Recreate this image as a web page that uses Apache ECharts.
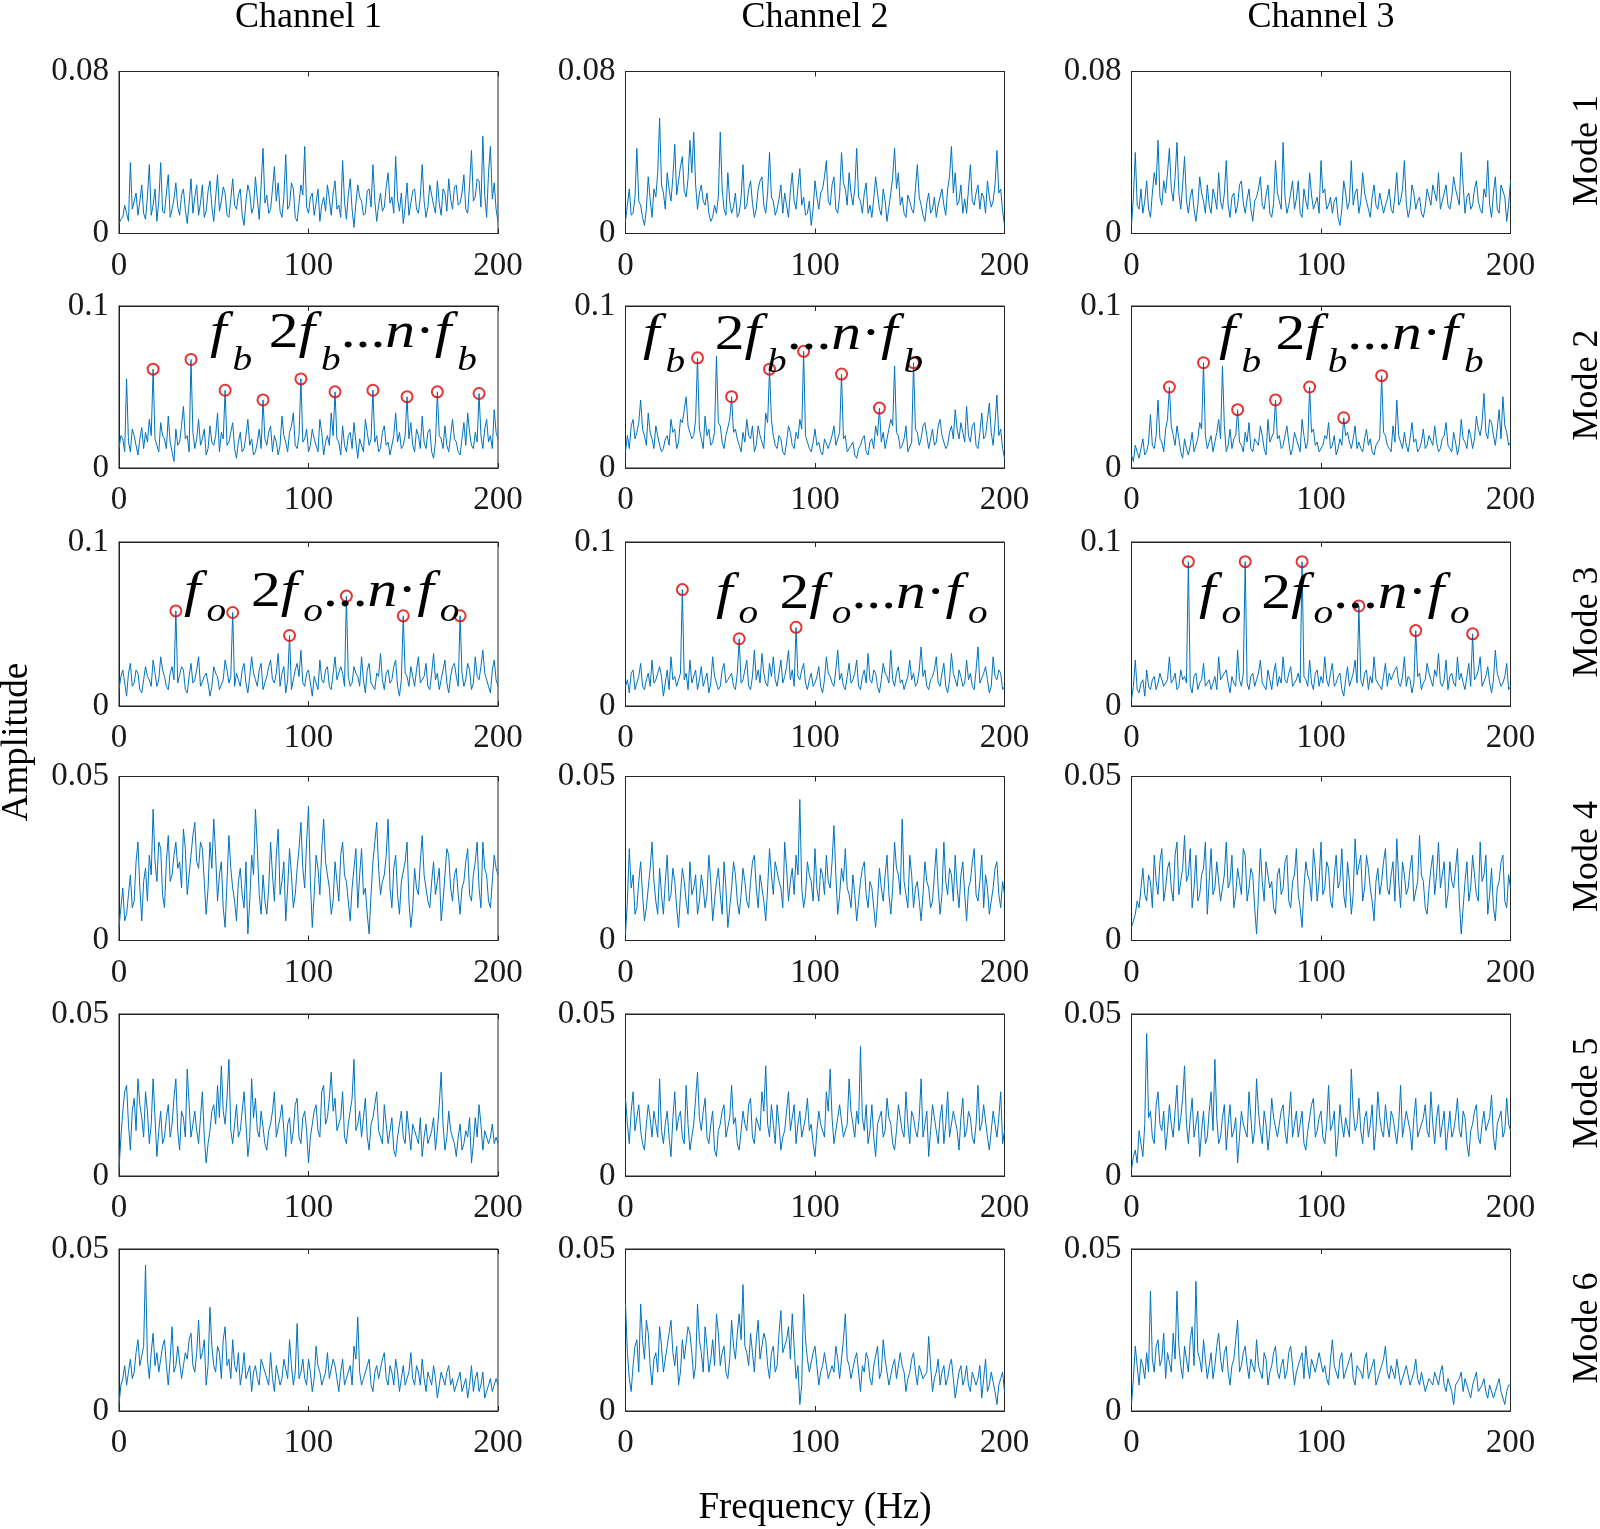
<!DOCTYPE html>
<html>
<head>
<meta charset="utf-8">
<script src="https://cdn.jsdelivr.net/npm/echarts@6/dist/echarts.min.js"></script>
<style>
html, body { margin: 0; background: #fff; }
#main { width: 1600px; height: 1529px; }
</style>
</head>
<body>
<div id="main"></div>
<script>
// amplitude spectra, values in units of 0.001, one value per 1 Hz from 0 to 200 Hz
const mode1Ch1 = [5,7, 8,14, 10,6, 35,12, 12,20, 9,16, 24,10, 7,18, 34,9, 14,22,
    6,16, 35,11, 10,20, 29,8, 12,17, 25,13, 9,19, 22,12, 5,15, 27,10,
    18,24, 9,15, 24,8, 11,21, 26,13, 6,18, 29,11, 16,23, 20,9, 8,17,
    27,14, 12,19, 22,9, 4,16, 24,20, 10,13, 28,17, 7,24, 42,15, 19,10,
    12,22, 33,16, 25,11, 8,18, 39,12, 14,25, 22,8, 6,15, 24,19, 43,13,
    10,18, 20,9, 15,22, 6,14, 18,11, 24,17, 9,20, 26,12, 14,8, 36,16,
    7,19, 27,12, 3,15, 24,18, 16,9, 10,21, 22,13, 34,16, 6,14, 20,11,
    13,23, 30,15, 18,10, 38,17, 11,20, 5,13, 25,9, 15,21, 22,12, 10,18,
    34,16, 8,13, 24,19, 14,10, 26,15, 9,22, 20,11, 27,17, 12,23, 24,14,
    15,20, 29,12, 10,24, 41,16, 18,27, 26,13, 48,19, 8,30, 43,17, 25,12,
    6]
const mode1Ch2 = [6,14, 22,9, 10,18, 42,16, 14,8, 4,12, 28,17, 8,22, 18,30, 57,24,
    20,12, 30,22, 16,28, 44,19, 26,33, 38,21, 18,27, 46,30, 50,24, 12,20,
    24,16, 14,20, 10,6, 8,14, 10,18, 50,22, 12,9, 30,16, 10,13, 20,8,
    10,18, 34,12, 14,22, 26,15, 8,12, 22,26, 28,14, 10,20, 40,18, 16,9,
    12,17, 24,10, 20,14, 8,21, 30,16, 12,23, 32,14, 18,9, 10,16, 4,12,
    26,18, 12,20, 22,28, 36,16, 14,24, 28,12, 10,19, 40,25, 22,14, 30,20,
    14,22, 42,18, 16,10, 20,25, 10,14, 8,17, 28,20, 12,9, 22,16, 6,13,
    20,28, 42,22, 30,14, 18,10, 8,19, 16,12, 10,22, 34,18, 14,9, 6,15,
    20,10, 12,18, 8,14, 18,22, 14,9, 22,28, 43,20, 30,14, 16,24, 10,17,
    10,22, 34,16, 14,20, 24,12, 20,18, 10,26, 18,13, 16,24, 41,20, 22,11,
    4]
const mode1Ch3 = [4,18, 40,14, 12,22, 10,16, 26,12, 8,20, 30,24, 46,18, 14,26, 20,30,
    42,22, 16,28, 45,20, 12,24, 38,16, 10,18, 22,12, 6,14, 28,20, 16,10,
    24,14, 10,22, 18,12, 30,16, 12,20, 36,14, 8,18, 20,10, 14,24, 26,15,
    10,17, 22,12, 6,16, 18,22, 28,14, 12,19, 24,10, 8,15, 36,20, 16,12,
    45,18, 10,14, 20,26, 12,17, 26,10, 8,22, 16,12, 30,19, 12,15, 18,10,
    36,20, 22,12, 14,18, 10,16, 18,8, 4,12, 26,20, 12,16, 36,14, 20,22,
    10,16, 30,20, 16,12, 8,18, 24,14, 12,20, 20,10, 14,17, 22,12, 10,19,
    30,14, 16,22, 36,15, 8,12, 24,20, 12,16, 18,10, 8,13, 22,18, 14,24,
    20,16, 30,12, 16,20, 24,14, 12,18, 28,22, 18,14, 40,24, 10,18, 20,12,
    14,22, 26,16, 12,10, 22,18, 36,14, 8,20, 28,12, 10,24, 24,18, 6,14,
    26]
const mode2Ch1 = [12,20, 18,10, 55,16, 10,24, 20,14, 8,18, 25,12, 22,16, 30,20, 61,18,
    14,10, 28,20, 18,12, 32,16, 10,4, 24,14, 16,26, 38,18, 20,10, 67,22,
    12,18, 30,14, 18,24, 8,12, 26,16, 14,20, 34,10, 22,18, 48,14, 16,22,
    28,12, 6,16, 22,10, 12,20, 30,14, 18,8, 10,16, 24,12, 42,18, 14,22,
    26,10, 20,16, 8,14, 32,20, 16,10, 22,26, 34,14, 12,20, 55,16, 18,24,
    10,14, 24,18, 14,10, 30,22, 8,16, 20,14, 34,20, 47,18, 16,8, 26,14,
    10,20, 22,12, 28,16, 6,18, 18,10, 30,22, 14,18, 48,16, 20,10, 12,22,
    26,14, 16,8, 8,20, 34,16, 22,12, 14,20, 44,18, 28,14, 10,24, 20,12,
    32,16, 12,22, 24,10, 6,16, 47,20, 18,12, 26,14, 10,20, 30,18, 16,10,
    8,18, 28,14, 34,22, 14,12, 22,16, 46,20, 12,24, 30,16, 20,12, 36,22,
    18]
const mode2Ch2 = [10,20, 12,26, 30,18, 22,28, 42,24, 20,14, 34,22, 18,12, 26,20, 14,10,
    12,18, 20,14, 30,22, 24,12, 16,30, 28,36, 44,26, 22,18, 20,30, 68,24,
    18,12, 32,20, 24,14, 16,22, 69,28, 26,16, 12,20, 20,30, 44,22, 24,18,
    14,10, 22,16, 30,20, 18,26, 10,14, 26,20, 16,12, 34,28, 61,30, 20,14,
    12,20, 18,10, 8,16, 26,22, 14,12, 22,18, 30,24, 72,20, 20,12, 10,16,
    24,14, 16,10, 8,18, 18,12, 12,20, 26,14, 14,22, 58,18, 20,10, 10,14,
    16,8, 6,12, 14,18, 20,10, 8,16, 18,12, 26,20, 37,16, 22,12, 12,24,
    30,26, 63,22, 20,12, 14,18, 26,10, 10,16, 65,24, 22,14, 18,26, 28,20,
    12,18, 24,14, 16,26, 30,20, 20,12, 14,22, 26,18, 36,24, 18,28, 22,16,
    38,20, 16,26, 28,14, 12,22, 34,18, 20,30, 40,22, 14,28, 45,20, 24,12,
    6]
const mode2Ch3 = [8,4, 14,10, 6,12, 18,8, 10,16, 33,14, 12,20, 42,18, 16,10, 24,30,
    50,26, 20,14, 26,18, 10,6, 18,12, 8,14, 22,10, 14,18, 28,24, 65,20,
    12,16, 20,10, 16,22, 30,18, 63,26, 10,14, 24,12, 18,20, 36,16, 14,10,
    22,16, 28,12, 10,18, 18,14, 26,20, 12,8, 30,16, 16,22, 42,18, 20,12,
    14,20, 26,16, 8,12, 22,18, 18,10, 30,20, 12,16, 50,22, 24,14, 16,10,
    10,14, 20,18, 28,12, 14,20, 8,12, 18,14, 31,20, 22,16, 12,18, 26,12,
    16,12, 10,18, 24,14, 18,10, 8,14, 14,18, 57,22, 20,14, 12,10, 26,16,
    42,20, 16,12, 22,14, 10,18, 28,16, 18,10, 12,16, 24,12, 14,20, 20,14,
    26,16, 10,12, 18,20, 28,14, 14,10, 22,16, 8,14, 30,18, 16,12, 24,20,
    12,18, 32,24, 20,28, 46,22, 18,30, 28,20, 14,24, 36,18, 44,26, 22,14,
    16]
const mode3Ch1 = [10,18, 22,14, 6,20, 26,12, 14,22, 20,10, 8,16, 24,18, 16,12, 28,20,
    12,16, 30,22, 18,12, 10,20, 24,16, 58,14, 14,24, 22,10, 8,18, 26,14,
    16,22, 30,12, 12,18, 20,14, 6,12, 24,20, 18,10, 10,16, 28,22, 14,18,
    57,12, 20,16, 12,22, 26,14, 8,18, 30,20, 16,12, 22,26, 10,14, 18,24,
    28,16, 14,20, 32,12, 20,24, 8,16, 43,10, 16,22, 26,18, 34,14, 12,20,
    22,14, 6,18, 18,10, 28,16, 14,22, 24,12, 10,20, 30,16, 16,24, 20,12,
    67,18, 12,14, 24,20, 18,12, 30,16, 8,22, 26,14, 14,10, 20,18, 32,16,
    10,20, 22,14, 16,24, 28,12, 6,16, 55,20, 18,12, 24,18, 12,22, 30,14,
    14,18, 26,12, 10,20, 32,16, 20,10, 16,22, 28,14, 8,18, 24,26, 18,12,
    55,20, 12,16, 26,22, 10,14, 30,18, 16,24, 34,20, 20,12, 8,22, 28,16,
    12]
const mode3Ch2 = [12,16, 8,20, 22,10, 14,18, 26,12, 10,16, 20,12, 28,14, 16,20, 24,18,
    6,14, 22,10, 30,16, 18,12, 12,20, 71,16, 20,10, 28,14, 14,22, 10,16,
    24,12, 16,20, 8,14, 30,18, 18,10, 12,22, 26,14, 14,18, 20,12, 10,20,
    41,14, 16,22, 28,12, 10,18, 34,16, 22,14, 32,20, 14,12, 26,18, 30,16,
    12,20, 28,14, 18,24, 34,16, 22,12, 48,18, 16,22, 26,14, 10,16, 20,12,
    14,18, 24,12, 8,16, 30,20, 18,14, 12,22, 34,16, 20,12, 10,18, 26,14,
    16,20, 28,12, 10,18, 22,14, 32,16, 14,22, 20,12, 8,16, 26,20, 18,14,
    34,16, 12,20, 24,14, 16,10, 10,18, 28,16, 20,12, 14,22, 36,18, 22,12,
    10,16, 18,22, 30,14, 12,20, 26,12, 8,16, 32,20, 16,12, 22,18, 12,14,
    28,16, 20,12, 10,22, 36,14, 14,20, 24,16, 8,12, 30,18, 16,22, 20,10,
    12]
const mode3Ch3 = [4,12, 28,10, 8,14, 16,6, 22,12, 10,16, 18,10, 14,20, 20,12, 12,16,
    30,14, 16,20, 10,12, 22,16, 18,14, 88,12, 8,18, 20,10, 14,16, 26,12,
    12,16, 10,14, 18,10, 30,16, 16,20, 22,14, 8,18, 14,12, 34,16, 12,20,
    88,14, 10,18, 20,12, 16,20, 28,14, 14,10, 22,16, 10,20, 26,12, 18,14,
    30,16, 14,20, 24,12, 12,16, 20,14, 88,18, 16,12, 28,14, 10,20, 22,12,
    18,14, 30,16, 12,20, 26,12, 14,18, 20,10, 6,16, 24,12, 16,20, 28,14,
    61,16, 12,20, 22,10, 18,14, 30,16, 14,12, 10,18, 26,12, 20,16, 16,22,
    24,14, 12,18, 30,12, 18,16, 8,14, 46,18, 20,10, 14,16, 26,20, 16,12,
    22,18, 32,14, 12,16, 28,10, 18,20, 14,12, 30,16, 20,14, 10,18, 26,12,
    44,16, 18,22, 30,12, 12,18, 24,14, 8,16, 34,20, 20,12, 14,18, 26,10,
    12]
const mode4Ch1 = [4,10, 16,6, 8,14, 20,10, 12,24, 30,16, 6,18, 22,12, 26,20, 40,24,
    18,30, 28,14, 10,24, 32,18, 20,26, 30,22, 24,16, 34,28, 14,20, 26,32,
    36,24, 22,30, 28,18, 8,16, 30,22, 37,26, 12,20, 24,10, 4,18, 32,22,
    16,12, 6,18, 22,14, 10,24, 2,12, 26,20, 40,28, 14,8, 20,12, 8,16,
    30,20, 12,26, 34,14, 18,24, 6,16, 28,20, 10,14, 22,28, 36,22, 16,30,
    41,18, 4,14, 26,22, 14,28, 37,24, 20,16, 8,12, 24,18, 12,26, 30,20,
    18,12, 6,16, 22,28, 10,20, 28,14, 16,8, 2,14, 24,30, 36,22, 14,18,
    20,26, 37,16, 10,22, 26,14, 8,18, 18,24, 30,12, 4,10, 22,16, 14,24,
    32,20, 16,12, 10,18, 24,14, 18,22, 6,12, 20,28, 26,16, 12,20, 22,14,
    8,16, 18,24, 28,14, 12,20, 24,30, 16,10, 30,22, 20,12, 10,18, 26,22,
    20]
const mode4Ch2 = [2,12, 28,16, 20,8, 10,18, 24,14, 6,10, 16,22, 30,18, 12,8, 22,14,
    8,18, 26,12, 14,22, 18,10, 4,14, 22,18, 12,8, 24,14, 16,20, 8,12,
    20,16, 10,14, 26,18, 6,12, 18,22, 14,8, 24,16, 4,10, 16,24, 20,12,
    8,14, 22,18, 12,10, 18,24, 26,16, 10,20, 20,12, 6,16, 28,20, 14,24,
    24,18, 16,10, 30,22, 12,18, 22,14, 26,20, 43,16, 10,14, 24,20, 18,12,
    28,16, 12,22, 20,14, 26,18, 16,24, 35,20, 8,14, 22,18, 28,16, 14,10,
    20,14, 6,12, 18,22, 24,14, 10,18, 16,10, 4,12, 22,16, 12,20, 26,14,
    8,16, 30,22, 20,14, 37,18, 14,10, 26,20, 10,16, 18,12, 6,14, 24,18,
    16,10, 12,20, 28,16, 8,14, 30,18, 14,22, 20,12, 26,16, 10,20, 24,14,
    6,16, 18,24, 28,14, 12,18, 26,10, 20,16, 8,12, 16,22, 24,14, 10,18,
    14]
const mode4Ch3 = [4,6, 8,12, 10,16, 22,14, 12,20, 18,10, 26,18, 14,24, 28,12, 16,22,
    24,16, 12,26, 30,14, 18,22, 32,18, 20,28, 10,16, 26,12, 14,20, 22,30,
    8,18, 28,14, 16,24, 24,12, 12,20, 30,16, 18,26, 10,14, 22,18, 14,28,
    26,12, 16,22, 20,10, 2,14, 28,18, 12,24, 24,16, 18,10, 8,20, 22,14,
    16,24, 26,12, 10,18, 20,28, 14,10, 4,16, 24,20, 18,12, 28,22, 12,18,
    30,14, 16,24, 22,12, 10,20, 26,16, 18,28, 14,10, 24,18, 8,14, 31,20,
    20,26, 12,16, 26,22, 16,12, 6,18, 22,14, 18,24, 28,16, 14,20, 24,12,
    31,18, 10,24, 20,14, 16,22, 26,12, 12,18, 32,20, 18,10, 8,16, 22,26,
    14,20, 30,16, 20,24, 10,14, 24,18, 16,22, 28,12, 2,10, 18,24, 12,16,
    26,20, 14,12, 30,18, 20,26, 8,14, 22,10, 6,16, 18,24, 26,12, 10,20,
    16]
const mode5Ch1 = [2,12, 20,26, 28,16, 8,20, 24,14, 30,22, 18,12, 26,20, 10,16, 30,18,
    6,14, 20,10, 12,18, 22,12, 16,24, 30,14, 8,20, 18,12, 33,22, 12,16,
    20,14, 10,18, 26,12, 4,10, 14,20, 22,16, 28,18, 34,20, 16,24, 36,14,
    10,16, 22,12, 14,20, 26,16, 6,12, 30,18, 24,14, 12,20, 20,10, 8,14,
    16,20, 26,12, 12,18, 22,14, 6,16, 18,10, 14,22, 24,12, 10,18, 20,14,
    4,12, 16,20, 22,14, 12,26, 28,16, 18,24, 32,20, 24,14, 14,18, 26,12,
    10,16, 20,24, 36,14, 16,20, 12,18, 24,12, 8,16, 18,22, 26,14, 14,10,
    22,16, 10,14, 18,8, 6,12, 16,20, 12,10, 20,14, 8,16, 14,12, 10,18,
    6,12, 16,10, 10,14, 18,8, 14,22, 32,16, 8,12, 20,14, 14,10, 6,12,
    16,8, 10,14, 12,18, 4,10, 18,12, 22,16, 8,14, 14,10, 12,16, 10,12,
    10]
const mode5Ch2 = [24,16, 10,20, 26,14, 18,22, 14,10, 8,16, 22,18, 12,20, 16,12, 30,14,
    10,16, 20,12, 6,18, 26,14, 18,20, 12,10, 28,16, 8,12, 16,24, 32,18,
    14,20, 24,12, 10,16, 20,8, 6,14, 16,20, 22,12, 12,18, 28,16, 18,10,
    8,14, 20,16, 14,22, 24,12, 10,18, 18,14, 26,20, 34,16, 12,22, 16,10,
    22,16, 8,12, 14,20, 26,14, 18,22, 10,16, 20,12, 12,18, 24,14, 16,10,
    6,14, 20,16, 14,12, 26,20, 33,18, 10,14, 18,22, 22,12, 12,16, 30,20,
    16,12, 20,16, 40,18, 14,22, 10,14, 22,12, 6,16, 18,20, 12,14, 24,18,
    16,10, 8,14, 22,18, 14,12, 26,16, 10,20, 18,14, 12,18, 30,12, 16,20,
    6,14, 22,18, 14,10, 18,22, 10,16, 26,12, 12,20, 20,14, 8,18, 24,12,
    14,20, 18,12, 10,16, 28,14, 16,22, 22,12, 8,14, 20,16, 12,18, 26,10,
    14]
const mode5Ch3 = [2,6, 8,4, 14,10, 6,16, 44,18, 20,12, 10,22, 26,16, 14,20, 8,14,
    22,16, 12,20, 28,14, 18,24, 34,16, 10,18, 24,12, 16,20, 6,14, 20,10,
    12,20, 26,14, 36,18, 10,12, 18,22, 8,16, 22,12, 14,18, 4,12, 20,16,
    16,12, 26,18, 10,14, 30,20, 14,10, 20,16, 8,14, 24,18, 18,12, 12,20,
    22,14, 10,18, 26,12, 16,20, 12,16, 20,10, 8,14, 18,22, 24,12, 14,18,
    20,12, 10,16, 28,14, 16,20, 6,12, 22,16, 12,18, 18,12, 33,20, 14,16,
    24,14, 10,18, 20,12, 16,22, 8,14, 26,18, 14,12, 22,16, 12,20, 18,14,
    10,16, 28,12, 16,20, 20,14, 8,18, 24,12, 12,16, 18,22, 14,12, 26,16,
    10,18, 22,12, 16,20, 8,14, 20,12, 14,18, 24,14, 12,20, 18,10, 6,14,
    16,20, 22,12, 10,16, 20,14, 14,18, 25,12, 8,16, 18,20, 12,14, 24,16,
    14]
const mode6Ch1 = [2,8, 10,14, 8,12, 16,10, 12,18, 22,14, 14,20, 45,16, 10,18, 24,14,
    18,12, 12,20, 22,14, 8,16, 26,12, 14,20, 20,10, 10,18, 16,22, 24,14,
    12,18, 28,16, 18,22, 8,14, 32,20, 14,12, 20,18, 10,22, 26,14, 16,10,
    22,14, 12,18, 8,12, 18,10, 10,14, 6,12, 14,10, 8,16, 16,12, 12,8,
    18,10, 6,14, 14,8, 10,16, 16,10, 22,14, 8,12, 27,10, 12,16, 10,8,
    16,12, 6,10, 20,14, 12,8, 8,12, 18,10, 10,16, 14,10, 6,12, 16,8,
    10,12, 14,8, 20,16, 29,12, 8,10, 12,14, 16,8, 6,12, 14,10, 10,16,
    18,10, 8,14, 12,8, 16,12, 6,10, 14,8, 10,12, 18,10, 8,14, 12,8,
    16,10, 6,12, 10,8, 14,10, 4,8, 12,10, 8,12, 14,8, 10,6, 6,10,
    12,6, 8,10, 4,8, 14,6, 10,12, 6,8, 12,4, 4,8, 10,6, 8,10,
    8]
const mode6Ch2 = [33,18, 10,6, 14,20, 22,12, 33,22, 16,28, 24,14, 8,16, 18,12, 26,20,
    12,16, 20,24, 28,18, 14,20, 8,12, 22,16, 16,26, 24,18, 10,14, 33,22,
    18,12, 26,20, 12,16, 22,14, 30,24, 14,18, 20,12, 10,16, 28,20, 16,24,
    30,22, 39,20, 18,14, 24,18, 12,22, 28,16, 16,24, 22,14, 10,18, 20,12,
    14,24, 31,18, 18,22, 26,16, 30,20, 10,14, 2,8, 36,22, 16,12, 12,18,
    20,14, 8,12, 14,18, 18,10, 10,14, 12,20, 16,10, 16,22, 30,16, 14,10,
    10,16, 18,12, 6,14, 12,18, 16,10, 8,14, 14,20, 10,12, 22,16, 12,8,
    8,14, 16,10, 10,18, 14,12, 6,10, 12,16, 18,12, 8,14, 14,10, 10,12,
    23,14, 6,10, 12,16, 8,12, 14,8, 10,14, 16,10, 4,8, 12,14, 8,10,
    14,8, 6,12, 12,8, 10,14, 4,10, 16,6, 8,12, 12,6, 2,8, 10,12,
    6]
const mode6Ch3 = [2,10, 20,14, 8,16, 14,10, 18,12, 37,16, 12,20, 22,14, 16,24, 10,18,
    18,12, 24,16, 37,20, 14,10, 20,16, 12,22, 26,14, 40,18, 16,12, 22,16,
    10,14, 18,10, 14,20, 24,16, 12,18, 20,12, 8,14, 16,22, 28,12, 14,18,
    20,14, 10,16, 16,12, 22,14, 12,10, 18,16, 8,12, 14,18, 20,12, 10,14,
    16,10, 12,18, 20,14, 8,12, 14,16, 18,10, 20,14, 10,16, 16,12, 12,18,
    18,12, 14,10, 8,16, 22,14, 12,10, 16,18, 10,12, 14,16, 18,10, 8,14,
    14,12, 10,16, 18,10, 12,14, 16,8, 8,12, 14,16, 20,12, 10,14, 12,10,
    16,12, 8,10, 12,14, 14,8, 10,12, 16,10, 8,12, 12,6, 6,10, 10,8,
    12,10, 8,12, 14,8, 6,10, 10,6, 2,8, 8,10, 12,6, 10,8, 6,4,
    8,10, 12,6, 6,8, 10,6, 4,8, 8,4, 6,8, 10,6, 4,2, 6,8,
    8]

// marked harmonic peaks (Hz, amplitude x 0.001)
const peaks2Ch1Hz = [18, 38, 56, 76, 96, 114, 134, 152, 168, 190]
const peaks2Ch1Amp = [61, 67, 48, 42, 55, 47, 48, 44, 47, 46]
const peaks2Ch2Hz = [38, 56, 76, 94, 114, 134, 152]
const peaks2Ch2Amp = [68, 44, 61, 72, 58, 37, 65]
const peaks2Ch3Hz = [20, 38, 56, 76, 94, 112, 132]
const peaks2Ch3Amp = [50, 65, 36, 42, 50, 31, 57]
const peaks3Ch1Hz = [30, 60, 90, 120, 150, 180]
const peaks3Ch1Amp = [58, 57, 43, 67, 55, 55]
const peaks3Ch2Hz = [30, 60, 90]
const peaks3Ch2Amp = [71, 41, 48]
const peaks3Ch3Hz = [30, 60, 90, 120, 150, 180]
const peaks3Ch3Amp = [88, 88, 88, 61, 46, 44]

const channels = ['Channel 1', 'Channel 2', 'Channel 3']
const modes = ['Mode 1', 'Mode 2', 'Mode 3', 'Mode 4', 'Mode 5', 'Mode 6']
const ampMax = [0.08, 0.1, 0.1, 0.05, 0.05, 0.05]
const freqMax = 200
const freqStep = 100

const spectra = [
    [mode1Ch1, mode1Ch2, mode1Ch3],
    [mode2Ch1, mode2Ch2, mode2Ch3],
    [mode3Ch1, mode3Ch2, mode3Ch3],
    [mode4Ch1, mode4Ch2, mode4Ch3],
    [mode5Ch1, mode5Ch2, mode5Ch3],
    [mode6Ch1, mode6Ch2, mode6Ch3]
]
const peaks = {
    '1-0': [peaks2Ch1Hz, peaks2Ch1Amp], '1-1': [peaks2Ch2Hz, peaks2Ch2Amp], '1-2': [peaks2Ch3Hz, peaks2Ch3Amp],
    '2-0': [peaks3Ch1Hz, peaks3Ch1Amp], '2-1': [peaks3Ch2Hz, peaks3Ch2Amp], '2-2': [peaks3Ch3Hz, peaks3Ch3Amp]
}

// layout
const colLeft = [119, 625.5, 1131.5]
const rowTop = [71.5, 306, 542, 776.5, 1014, 1249]
const rowH = [162, 162, 164, 164, 162, 162]
const plotW = 379
const serif = '"Liberation Serif", "Times New Roman", serif'
const axisColor = '#262626'

const grids = [], xAxes = [], topAxes = [], yAxes = [], series = []
spectra.forEach((row, r) => {
    row.forEach((vals, c) => {
        const k = r * 3 + c
        grids.push({
            left: colLeft[c], top: rowTop[r], width: plotW, height: rowH[r],
            show: true, borderColor: axisColor, borderWidth: 1,
            containLabel: false, outerBoundsMode: 'none'
        })
        xAxes.push({
            gridIndex: k, type: 'value', min: 0, max: freqMax, interval: freqStep,
            axisLine: {show: true, onZero: false, lineStyle: {color: axisColor, width: 1}},
            axisTick: {show: true, inside: true, length: 5, lineStyle: {color: axisColor}},
            axisLabel: {fontSize: 33, fontFamily: serif, color: '#1a1a1a', margin: 16},
            splitLine: {show: false}
        })
        topAxes.push({
            gridIndex: k, type: 'value', position: 'top', min: 0, max: freqMax, interval: freqStep,
            axisLine: {show: true, onZero: false, lineStyle: {color: axisColor, width: 1}},
            axisTick: {show: true, inside: true, length: 5, lineStyle: {color: axisColor}},
            axisLabel: {show: false},
            splitLine: {show: false}
        })
        yAxes.push({
            gridIndex: k, type: 'value', min: 0, max: ampMax[r], interval: ampMax[r],
            axisLine: {show: true, lineStyle: {color: axisColor, width: 1}},
            axisTick: {show: false},
            axisLabel: {fontSize: 33, fontFamily: serif, color: '#1a1a1a', margin: 10, padding: [6, 0, 0, 0]},
            splitLine: {show: false}
        })
        series.push({
            type: 'line', xAxisIndex: k, yAxisIndex: k,
            data: vals.map((v, i) => [i * freqMax / (vals.length - 1), v / 1000]),
            showSymbol: false, symbol: 'none', silent: true,
            lineStyle: {color: '#0072BD', width: 1}
        })
        const p = peaks[r + '-' + c]
        if (p) {
            series.push({
                type: 'scatter', xAxisIndex: k, yAxisIndex: k, z: 5, silent: true,
                data: p[0].map((f, i) => [f, p[1][i] / 1000]),
                symbol: 'circle', symbolSize: 11,
                itemStyle: {color: 'rgba(0,0,0,0)', borderColor: '#e00000', borderWidth: 2}
            })
        }
    })
})
topAxes.forEach(a => xAxes.push(a))

// harmonic annotations: gap = space before "2", drop = how far the subscript sits down
const annotations = [
    {x: 210, y: 309, gap: 14, drop: 36, sub: 'b'},
    {x: 643, y: 311, gap: 25, drop: 36, sub: 'b'},
    {x: 1219, y: 311, gap: 12, drop: 36, sub: 'b'},
    {x: 184, y: 568, gap: 21, drop: 28, sub: 'o'},
    {x: 716, y: 570, gap: 18, drop: 28, sub: 'o'},
    {x: 1199, y: 570, gap: 17, drop: 28, sub: 'o'}
]
function annRich(gap, drop) {
    const big = '50px ' + serif
    const small = '33px ' + serif
    return {
        i: {font: 'italic ' + big, fill: '#000', lineHeight: 50, verticalAlign: 'top'},
        s: {font: 'italic ' + small, fill: '#000', lineHeight: 33 + drop, verticalAlign: 'top', padding: [drop, 0, 0, 5]},
        r: {font: big, fill: '#000', lineHeight: 50, verticalAlign: 'top'},
        t: {font: big, fill: '#000', lineHeight: 50, verticalAlign: 'top', padding: [0, 0, 0, gap]}
    }
}

const graphic = []
channels.forEach((t, c) => {
    graphic.push({
        type: 'text', x: colLeft[c] + plotW / 2, y: 18, z: 100,
        style: {text: t, fontSize: 36, fontFamily: serif, fill: '#000', align: 'center', verticalAlign: 'middle'}
    })
})
modes.forEach((t, r) => {
    graphic.push({
        type: 'text', x: 1588, y: rowTop[r] + rowH[r] / 2 - 2, rotation: Math.PI / 2, z: 100,
        style: {text: t, fontSize: 36, fontFamily: serif, fill: '#000', align: 'center', verticalAlign: 'middle'}
    })
})
graphic.push({
    type: 'text', x: 17, y: 742, rotation: Math.PI / 2, z: 100,
    style: {text: 'Amplitude', fontSize: 37, fontFamily: serif, fill: '#000', align: 'center', verticalAlign: 'middle'}
})
graphic.push({
    type: 'text', x: 815, y: 1508, z: 100,
    style: {text: 'Frequency (Hz)', fontSize: 37, fontFamily: serif, fill: '#000', align: 'center', verticalAlign: 'middle'}
})
annotations.forEach(a => {
    const s = a.sub
    graphic.push({
        type: 'text', x: a.x, y: a.y, scaleX: 1.19, z: 100,
        style: {
            text: `{i|f}{s|${s}}{t|2}{i|f}{s|${s}}{r|...}{i|n}{r|·}{i|f}{s|${s}}`,
            rich: annRich(a.gap, a.drop),
            font: '50px ' + serif, fill: '#000', align: 'left', verticalAlign: 'top'
        }
    })
})

let chart = echarts.init(document.getElementById('main'), null, {renderer: 'canvas'})
chart.setOption({
    animation: false,
    backgroundColor: '#fff',
    grid: grids,
    xAxis: xAxes,
    yAxis: yAxes,
    series: series,
    graphic: graphic
})
</script>
</body>
</html>
